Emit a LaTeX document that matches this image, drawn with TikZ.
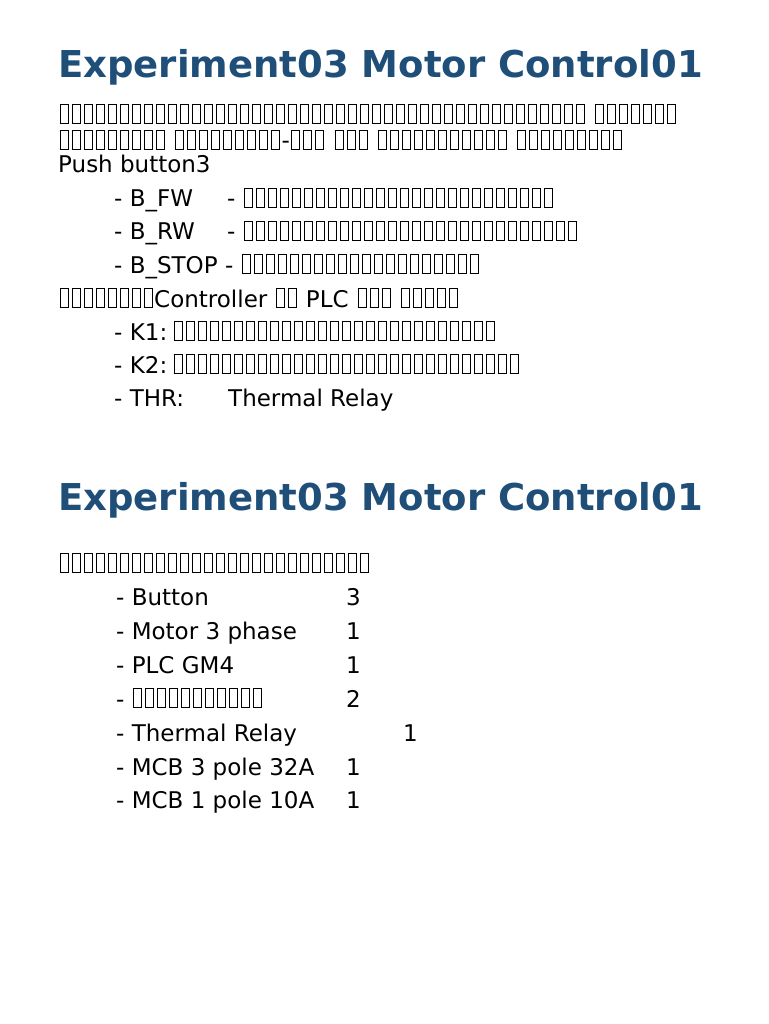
\documentclass[tikz,border=0pt]{standalone}
\usepackage{fontspec}
\setmainfont{DejaVu Sans}
\definecolor{tblue}{HTML}{1F4E79}
\newcommand\tb{\hbox to 12pt{\hss\fboxsep=0pt\fboxrule=1pt\fbox{\vrule width0pt height 18pt depth 0pt\hspace{7pt}}\hss}}
\newcount\tbc
\newcommand\TB[1]{\tbc=0 \loop\tb\advance\tbc 1 \ifnum\tbc<#1\repeat}
\begin{document}
\begin{tikzpicture}[x=1pt,y=-1pt,
  tt/.style={anchor=base west,inner sep=0pt,font=\fontsize{37}{40}\bfseries\selectfont,text=tblue},
  bd/.style={anchor=base west,inner sep=0pt,font=\fontsize{23}{26}\selectfont}]
\useasboundingbox (0,0) rectangle (768,1024);
\node[tt] (t1) at (58,78) {Experiment03 Motor Control01};
\node[bd] (l1) at (58,123) {\TB{44} \TB{7}};
\node[bd] (l2) at (58,149) {\TB{9} \TB{9}-\TB{3} \TB{3} \TB{11} \TB{9}};
\node[bd] (l3) at (58,173) {Push button3};
\node[bd] (a1) at (114,207) {- B\_FW};
\node[bd] (a1b) at (227,207) {- \TB{26}};
\node[bd] (a2) at (114,240) {- B\_RW};
\node[bd] (a2b) at (227,240) {- \TB{28}};
\node[bd] (a3) at (114,273) {- B\_STOP - \TB{20}};
\node[bd] (c) at (58,307) {\TB{8}Controller \TB{2} PLC \TB{3} \TB{5}};
\node[bd] (k1) at (114,340) {- K1:};
\node[bd] (k1b) at (172,340) {\TB{27}};
\node[bd] (k2) at (114,373) {- K2:};
\node[bd] (k2b) at (172,373) {\TB{29}};
\node[bd] (th) at (114,406) {- THR:};
\node[bd] (thb) at (228,406) {Thermal Relay};
\node[tt] (t2) at (58,510) {Experiment03 Motor Control01};
\node[bd] (h) at (58,572) {\TB{26}};
\node[bd] (m1) at (116,605) {- Button};
\node[bd] (m2) at (116,639) {- Motor 3 phase};
\node[bd] (m3) at (116,673) {- PLC GM4};
\node[bd] (m4) at (116,707) {- \TB{11}};
\node[bd] (m5) at (116,741) {- Thermal Relay};
\node[bd] (m6) at (116,775) {- MCB 3 pole 32A};
\node[bd] (m7) at (116,808) {- MCB 1 pole 10A};
\node[bd] (n1) at (346,605) {3};
\node[bd] (n2) at (346,639) {1};
\node[bd] (n3) at (346,673) {1};
\node[bd] (n4) at (346,707) {2};
\node[bd] (n5) at (403,741) {1};
\node[bd] (n6) at (346,775) {1};
\node[bd] (n7) at (346,808) {1};
\end{tikzpicture}
\end{document}
